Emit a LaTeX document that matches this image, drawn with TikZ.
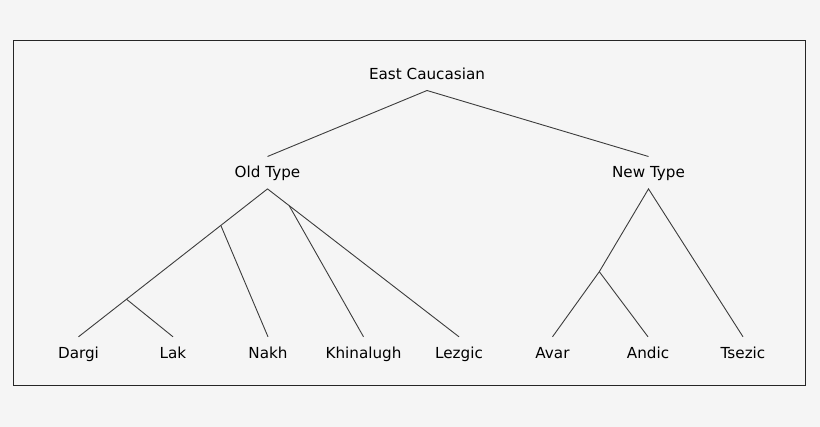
\documentclass[tikz,border=0pt]{standalone}
\usepackage{fontspec}
\setmainfont{DejaVu Sans}
\usepackage{xcolor}
\definecolor{mbg}{HTML}{F5F5F5}
\definecolor{mline}{HTML}{3C3C3C}
\usepackage{tikz}
\usetikzlibrary{calc}

\begin{document}
\begin{tikzpicture}[x=1pt, y=-1pt,
    lang/.style={anchor=base, inner xsep=0pt, inner ysep=10pt, text height=11pt, text depth=1pt,
        font=\fontsize{15.2}{18}\selectfont},
    leaf/.style={lang, inner ysep=11pt},
    branch/.style={mline, line width=0.9pt}]

            \fill[mbg] (0, 0) rectangle (820, 427);
            \draw[line width=1pt, black!85] (13.5, 40.5) rectangle (805.5, 386);

            \node[lang] (root) at (427, 79.3) {East Caucasian};
            \node[lang] (old) at (267.5, 177.7) {Old Type};
            \node[lang] (new) at (648.5, 177.7) {New Type};

            \node[leaf] (dargi) at (78.5, 359) {Dargi};
            \node[leaf] (lak) at (173, 359) {Lak};
            \node[leaf] (nakh) at (268, 359) {Nakh};
            \node[leaf] (khinalugh) at (363.5, 359) {Khinalugh};
            \node[leaf] (lezgic) at (459, 359) {Lezgic};
            \node[leaf] (avar) at (552.5, 359) {Avar};
            \node[leaf] (andic) at (648, 359) {Andic};
            \node[leaf] (tsezic) at (743, 359) {Tsezic};

            \coordinate (j1) at ($(old.south)!0.247!(dargi.north)$);
            \coordinate (j2) at ($(old.south)!0.746!(dargi.north)$);
            \coordinate (j3) at ($(old.south)!0.113!(lezgic.north)$);
            \coordinate (j4) at (599.3, 271.7);

            \draw[branch] (old.north) -- (root.south) -- (new.north);
            \draw[branch] (dargi.north) -- (old.south) -- (lezgic.north);
            \draw[branch] (j2) -- (lak.north);
            \draw[branch] (j1) -- (nakh.north);
            \draw[branch] (j3) -- (khinalugh.north);
            \draw[branch] (avar.north) -- (j4) -- (new.south) -- (tsezic.north);
            \draw[branch] (j4) -- (andic.north);

          \end{tikzpicture}
\end{document}
